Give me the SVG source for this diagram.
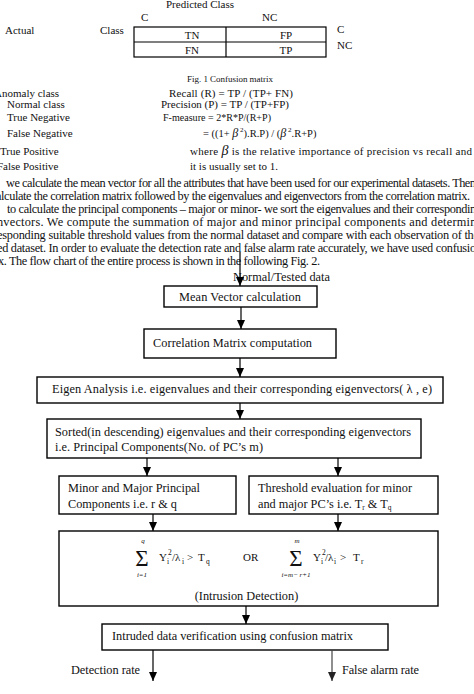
<svg xmlns="http://www.w3.org/2000/svg" width="474" height="694" viewBox="0 0 474 694">
<defs>
<marker id="ah" markerUnits="userSpaceOnUse" markerWidth="8" markerHeight="9" refX="4" refY="9" viewBox="0 0 8 9">
<path d="M0,0 L8,0 L4,9 z" fill="#000"/>
</marker>
<marker id="ahg" markerUnits="userSpaceOnUse" markerWidth="8" markerHeight="9" refX="4" refY="9" viewBox="0 0 8 9">
<path d="M0,0 L8,0 L4,9 z" fill="#222"/>
</marker>
<style>
text{font-family:"Liberation Serif","Times New Roman",serif;font-size:12.3px;fill:#111}
.t{font-size:11px}
.box{fill:#fff;stroke:#000;stroke-width:1.4}
.sm{font-size:7px;font-style:italic}
.sb{font-size:7.5px}
.sig{font-size:23px}
.beta{font-style:italic;font-size:12px}
.conn{stroke:#000;stroke-width:1.2;fill:none}
</style>
</defs>
<rect width="474" height="694" fill="#fff"/>

<g id="confusion-matrix">
<text class="t" x="166" y="8" textLength="68">Predicted Class</text>
<text class="t" x="141" y="21">C</text>
<text class="t" x="262" y="21">NC</text>
<text class="t" x="5" y="34">Actual</text>
<text class="t" x="100" y="34">Class</text>
<rect x="134" y="27" width="192" height="30" fill="none" stroke="#000" stroke-width="1.2"/>
<line x1="134" y1="42" x2="326" y2="42" stroke="#000" stroke-width="1.2"/>
<line x1="226" y1="27" x2="226" y2="57" stroke="#000" stroke-width="1.2"/>
<text class="t" x="192" y="38.5" text-anchor="middle">TN</text>
<text class="t" x="286" y="38.5" text-anchor="middle">FP</text>
<text class="t" x="192" y="54" text-anchor="middle">FN</text>
<text class="t" x="286" y="54" text-anchor="middle">TP</text>
<text class="t" x="337" y="33">C</text>
<text class="t" x="337" y="49">NC</text>
<text x="187" y="82" textLength="86" style="font-size:9px">Fig. 1 Confusion matrix</text>
</g>

<g id="definitions">
<text class="t" x="-6" y="97">Anomaly class</text>
<text class="t" x="7" y="108">Normal class</text>
<text class="t" x="7" y="121">True Negative</text>
<text class="t" x="7" y="137">False Negative</text>
<text class="t" x="0" y="155">True Positive</text>
<text class="t" x="-3" y="170">False Positive</text>
<text class="t" x="169" y="97" textLength="124">Recall (R) = TP / (TP+ FN)</text>
<text class="t" x="161" y="108" textLength="128">Precision (P) = TP / (TP+FP)</text>
<text class="t" x="163" y="121" textLength="108" lengthAdjust="spacingAndGlyphs">F-measure = 2*R*P/(R+P)</text>
<text x="203" y="137" style="font-size:10.5px">= ((1+ <tspan class="beta">β</tspan><tspan style="font-size:7px" dy="-5"> 2</tspan><tspan dy="5">).R.P) / (</tspan><tspan class="beta">β</tspan><tspan style="font-size:7px" dy="-5"> 2</tspan><tspan dy="5">.R+P)</tspan></text>
<text class="t" x="190" y="155" textLength="282">where <tspan class="beta" style="font-size:14px">β</tspan>  is the relative importance of precision vs recall and</text>
<text class="t" x="190" y="170">it is usually set to 1.</text>
</g>

<g id="paragraph">
<text x="6" y="187" textLength="470" lengthAdjust="spacing">we calculate the mean vector for all the attributes that have been used for our experimental datasets. Then</text>
<text x="-4" y="200" textLength="474" lengthAdjust="spacing">alculate the correlation matrix followed by the eigenvalues and eigenvectors from the correlation matrix.</text>
<text x="7" y="213" textLength="475" lengthAdjust="spacing">to calculate the principal components – major or minor- we sort the eigenvalues and their corresponding</text>
<text x="-3" y="226" textLength="485" lengthAdjust="spacing">nvectors. We compute the summation of major and minor principal components and determine</text>
<text x="-3" y="239" textLength="482" lengthAdjust="spacing">esponding suitable threshold values from the normal dataset and compare with each observation of the</text>
<text x="-3" y="252" textLength="485" lengthAdjust="spacing">ed dataset. In order to evaluate the detection rate and false alarm rate accurately, we have used confusion</text>
<text x="-5" y="265" textLength="325" lengthAdjust="spacing">ix. The flow chart of the entire process is shown in the following Fig. 2.</text>
</g>

<g id="input">
<text x="233" y="281" textLength="97">Normal/Tested data</text>
</g>

<g id="mean-vector">
<rect class="box" x="164" y="286" width="153" height="21"/>
<text x="179" y="301" textLength="122">Mean Vector calculation</text>
</g>

<g id="correlation">
<rect class="box" x="144" y="329" width="192" height="29"/>
<text x="153" y="347" textLength="159">Correlation Matrix computation</text>
</g>

<g id="eigen">
<rect class="box" x="37" y="377" width="406" height="26"/>
<text x="52" y="393" textLength="380">Eigen Analysis i.e. eigenvalues and their corresponding eigenvectors( λ , e)</text>
</g>

<g id="sorted">
<rect class="box" x="47" y="419" width="374" height="39"/>
<text x="55" y="436" textLength="356">Sorted(in descending) eigenvalues and their corresponding eigenvectors</text>
<text x="55" y="451" textLength="208">i.e. Principal Components(No. of PC’s m)</text>
</g>

<g id="minor-major">
<rect class="box" x="59" y="476" width="177" height="38"/>
<text x="68" y="492" textLength="132">Minor and Major Principal</text>
<text x="68" y="508" textLength="109">Components i.e. r &amp; q</text>
</g>

<g id="threshold">
<rect class="box" x="249" y="476" width="189" height="38"/>
<text x="258" y="492" textLength="154">Threshold evaluation for minor</text>
<text x="258" y="508">and major PC’s i.e. T<tspan class="sb" dy="2">r</tspan><tspan dy="-2"> &amp; T</tspan><tspan class="sb" dy="2">q</tspan></text>
</g>

<g id="intrusion-detection">
<rect class="box" x="59" y="531" width="379" height="75"/>
<text class="sig" x="142" y="566" text-anchor="middle">Σ</text>
<text class="sm" x="143" y="543" text-anchor="middle">q</text>
<text class="sm" x="142" y="577" text-anchor="middle">i=1</text>
<text class="t" x="159" y="561">Y</text>
<text class="sb" x="167" y="564">i</text>
<text class="sb" x="168" y="555">2</text>
<text class="t" x="172" y="561">/λ</text>
<text class="sb" x="182" y="564">i</text>
<text class="t" x="187" y="561">&gt;</text>
<text class="t" x="198" y="561">T</text>
<text class="sb" x="206" y="564">q</text>
<text class="t" x="243" y="561">OR</text>
<text class="sig" x="296" y="566" text-anchor="middle">Σ</text>
<text class="sm" x="297" y="543" text-anchor="middle">m</text>
<text class="sm" x="296" y="577" text-anchor="middle">i=m− r+1</text>
<text class="t" x="313" y="561">Y</text>
<text class="sb" x="321" y="564">i</text>
<text class="sb" x="322" y="555">2</text>
<text class="t" x="325" y="561">/λ</text>
<text class="sb" x="334" y="564">i</text>
<text class="t" x="340" y="561">&gt;</text>
<text class="t" x="353" y="561">T</text>
<text class="sb" x="361" y="564">r</text>
<text x="246.5" y="600" text-anchor="middle">(Intrusion Detection)</text>
</g>

<g id="verification">
<rect class="box" x="102" y="624" width="286" height="26"/>
<text x="112" y="640" textLength="241">Intruded data verification using confusion matrix</text>
</g>

<g id="outputs">
<text x="71" y="674" textLength="69">Detection rate</text>
<text x="342" y="674" textLength="77">False alarm rate</text>
</g>

<g id="connectors">
<line class="conn" x1="240" y1="252" x2="240" y2="286" marker-end="url(#ah)"/>
<line class="conn" x1="241" y1="307" x2="241" y2="329" marker-end="url(#ah)"/>
<line class="conn" x1="240" y1="358" x2="240" y2="377" marker-end="url(#ah)"/>
<line class="conn" x1="240" y1="403" x2="240" y2="419" marker-end="url(#ah)"/>
<line class="conn" x1="147" y1="458" x2="147" y2="476" marker-end="url(#ah)"/>
<line class="conn" x1="338" y1="458" x2="338" y2="476" marker-end="url(#ah)"/>
<line class="conn" x1="153" y1="514" x2="153" y2="531" marker-end="url(#ah)"/>
<line class="conn" x1="338" y1="514" x2="338" y2="531" marker-end="url(#ah)"/>
<line class="conn" x1="246" y1="606" x2="246" y2="624" marker-end="url(#ah)"/>
<line class="conn" x1="153" y1="650" x2="153" y2="681" marker-end="url(#ah)"/>
<line class="conn" x1="332" y1="650" x2="332" y2="681" style="stroke:#444" marker-end="url(#ahg)"/>
</g>
</svg>
